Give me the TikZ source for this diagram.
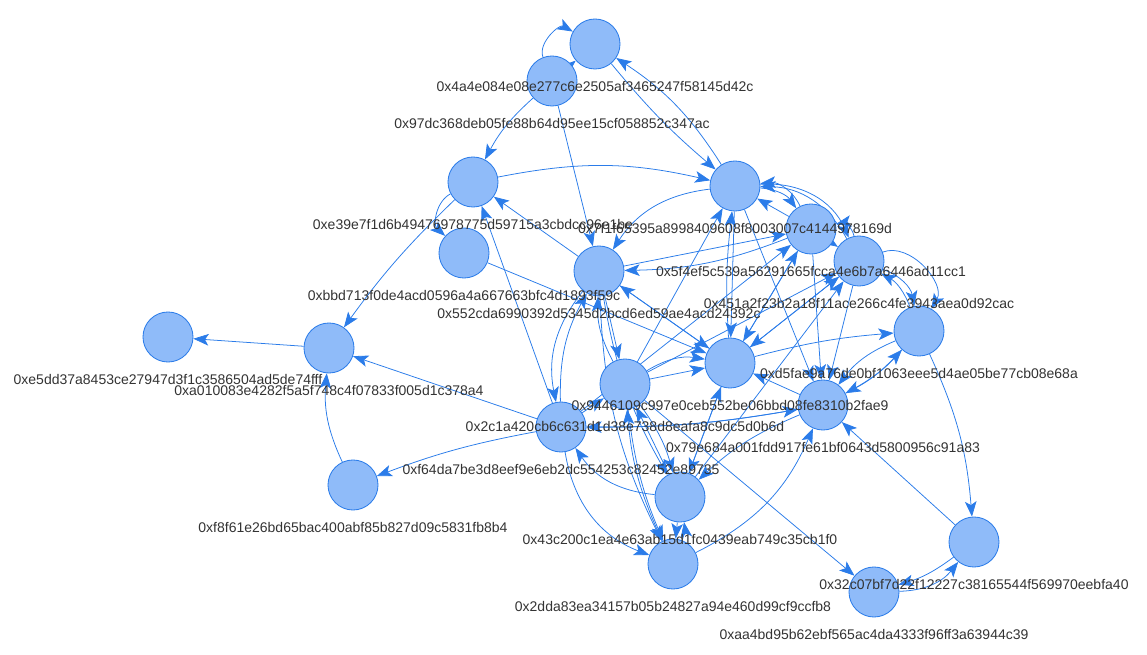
\documentclass[tikz,border=0pt]{standalone}
\usepackage{fontspec}
\setmainfont{Liberation Sans}
\usetikzlibrary{arrows.meta, positioning}
\pgfdeclarelayer{background}
\pgfdeclarelayer{front}
\pgfsetlayers{background,main,front}
\definecolor{visborder}{HTML}{2B7CE9}
\definecolor{visfill}{HTML}{8FBBF9}
\tikzset{
  dot/.style={circle, draw=visborder, fill=visfill, line width=0.6pt, minimum size=1.25cm, inner sep=0pt},
  lbl/.style={font=\fontsize{9.96}{12}\selectfont, inner sep=0pt, text=black!80},
  edge/.style={draw=visborder, line width=0.55pt, -{Stealth[length=3.8mm,width=2.9mm,inset=0.9mm]}},
}
\begin{document}
\begin{tikzpicture}[x=0.025cm, y=-0.025cm]
    \useasboundingbox (0,0) rectangle (1147,655);
    % Accounts (circle, address below it on the front layer)
    \foreach \nm/\x/\y/\txt in {
        x4a4e/595/44/0x4a4e084e08e277c6e2505af3465247f58145d42c,
        x97dc/552/81/0x97dc368deb05fe88b64d95ee15cf058852c347ac,
        xe39e/473/182/0xe39e7f1d6b49476978775d59715a3cbdcc96e1be,
        xbbd7/464/253/0xbbd713f0de4acd0596a4a667663bfc4d1893f59c,
        x552c/599/271/0x552cda6990392d5345d2bcd6ed59ae4acd24392c,
        x7f1f/735/186/0x7f1f65395a8998409608f8003007c4144978169d,
        x5f4e/811/229/0x5f4ef5c539a56291665fcca4e6b7a6446ad11cc1,
        x451a/859/261/0x451a2f23b2a18f11ace266c4fe3943aea0d92cac,
        xd5fa/919/331/0xd5fae9a76de0bf1063eee5d4ae05be77cb08e68a,
        x9446/730/363/0x9446109c997e0ceb552be06bbd08fe8310b2fae9,
        x2c1a/625/384/0x2c1a420cb6c631d1d38e738d8eafa8c9dc5d0b6d,
        x79e6/823/405/0x79e684a001fdd917fe61bf0643d5800956c91a83,
        xf64d/561/427/0xf64da7be3d8eef9e6eb2dc554253c82452e89735,
        x43c2/680/497/0x43c200c1ea4e63ab15d1fc0439eab749c35cb1f0,
        x2dda/673/564/0x2dda83ea34157b05b24827a94e460d99cf9ccfb8,
        xe5dd/168/337/0xe5dd37a8453ce27947d3f1c3586504ad5de74fff,
        xa010/329/348/0xa010083e4282f5a5f748c4f07833f005d1c378a4,
        xf8f6/353/485/0xf8f61e26bd65bac400abf85b827d09c5831fb8b4,
        x32c0/974/542/0x32c07bf7d22f12227c38165544f569970eebfa40,
        xaa4b/874/592/0xaa4bd95b62ebf565ac4da4333f96ff3a63944c39}
    {
        \node[dot] (\nm) at (\x,\y) {};
        \begin{pgfonlayer}{front}
            \node[lbl, below=0.3cm of \nm] (\nm-lbl) {\txt};
        \end{pgfonlayer}
    }
    % Transfers (from/to/bend), drawn under the circles
    \begin{pgfonlayer}{background}
    \foreach \s/\t/\b in {
        x97dc/x4a4e/0, x97dc/x4a4e/70, x4a4e/x7f1f/-5, x7f1f/x4a4e/-12,
        x97dc/xe39e/-10, x97dc/x552c/0, xe39e/x7f1f/12, x7f1f/x552c/-25,
        x552c/xe39e/0, xe39e/xbbd7/-55, xe39e/xa010/-5, xa010/xe5dd/0,
        xf8f6/xa010/15, xf64d/xf8f6/-5, xf64d/xa010/0, xf64d/xe39e/0,
        xbbd7/x9446/0, x552c/x9446/0, x2c1a/x552c/15, x9446/x552c/0,
        x5f4e/x552c/10, x552c/x5f4e/0, x5f4e/x7f1f/-35, x451a/x7f1f/-30,
        x5f4e/x7f1f/0, x7f1f/x5f4e/25, x7f1f/x451a/35, x451a/x5f4e/-45,
        x5f4e/x451a/0, x451a/xd5fa/30, x451a/xd5fa/70, xd5fa/x451a/-20,
        xd5fa/x32c0/10, x9446/xd5fa/5, xd5fa/x79e6/-15, xd5fa/x79e6/10,
        x79e6/xd5fa/-10, x79e6/x9446/0, x79e6/xf64d/5, xf64d/x79e6/-5,
        x2c1a/x9446/0, x2c1a/x9446/20, xf64d/x2c1a/0, x552c/x2c1a/0,
        x552c/xf64d/-25, xf64d/x552c/15, x43c2/xf64d/25, xf64d/x2dda/-30,
        x2dda/x79e6/-20, x32c0/x79e6/0, x2c1a/xaa4b/0, xaa4b/x32c0/-25,
        x32c0/xaa4b/10, x2c1a/x43c2/10, x9446/x43c2/0, x552c/x43c2/-10,
        x43c2/x2dda/0, x2c1a/x2dda/-8, x552c/x2dda/-12, x2dda/x43c2/-15,
        x43c2/x2c1a/0, x2dda/x2c1a/10, x43c2/x9446/0, x79e6/x43c2/-10,
        x43c2/x451a/0, x9446/x5f4e/0, xf64d/x5f4e/0, x9446/x451a/0,
        x2c1a/x451a/0, x2c1a/x7f1f/0, x9446/x7f1f/5, x7f1f/x9446/0,
        x5f4e/x9446/0, x451a/x9446/0, x5f4e/x79e6/0, x7f1f/x79e6/0,
        x451a/x79e6/0}
        \draw[edge] (\s) to[bend left=\b] (\t);
    \end{pgfonlayer}
\end{tikzpicture}
\end{document}
